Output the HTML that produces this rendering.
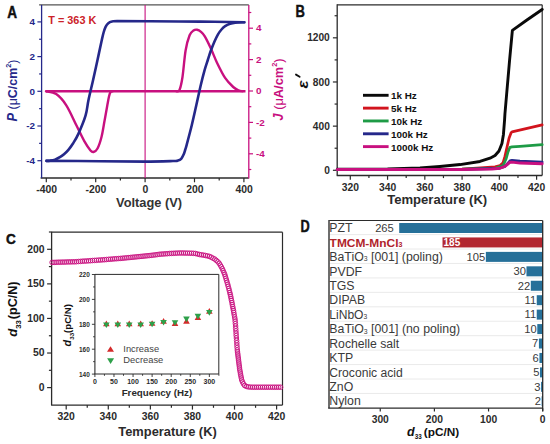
<!DOCTYPE html>
<html><head><meta charset="utf-8"><style>
html,body{margin:0;padding:0;background:#fff;}
svg{display:block;}
text{font-family:"Liberation Sans",sans-serif;}
</style></head><body>
<svg width="550" height="444" viewBox="0 0 550 444">
<rect width="550" height="444" fill="#fff"/>
<text x="7.20" y="17.80" font-size="15.6" font-weight="bold" fill="#111" text-anchor="start" textLength="9.80" lengthAdjust="spacingAndGlyphs" stroke="#111" stroke-width="0.45">A</text>
<line x1="39.10" y1="4.90" x2="248.80" y2="4.90" stroke="#555" stroke-width="1.3" />
<line x1="40.60" y1="178.00" x2="248.80" y2="178.00" stroke="#2b2b2b" stroke-width="1.3" />
<line x1="41.60" y1="4.90" x2="41.60" y2="178.00" stroke="#25288a" stroke-width="1.3" />
<line x1="248.80" y1="4.90" x2="248.80" y2="178.50" stroke="#c8107f" stroke-width="1.3" />
<line x1="145.10" y1="4.90" x2="145.10" y2="178.00" stroke="#c8107f" stroke-width="1.1" />
<line x1="46.30" y1="178.00" x2="46.30" y2="182.30" stroke="#2b2b2b" stroke-width="1.2" />
<line x1="71.00" y1="178.00" x2="71.00" y2="180.60" stroke="#2b2b2b" stroke-width="1.2" />
<line x1="95.70" y1="178.00" x2="95.70" y2="182.30" stroke="#2b2b2b" stroke-width="1.2" />
<line x1="120.40" y1="178.00" x2="120.40" y2="180.60" stroke="#2b2b2b" stroke-width="1.2" />
<line x1="145.10" y1="178.00" x2="145.10" y2="182.30" stroke="#2b2b2b" stroke-width="1.2" />
<line x1="169.80" y1="178.00" x2="169.80" y2="180.60" stroke="#2b2b2b" stroke-width="1.2" />
<line x1="194.50" y1="178.00" x2="194.50" y2="182.30" stroke="#2b2b2b" stroke-width="1.2" />
<line x1="219.20" y1="178.00" x2="219.20" y2="180.60" stroke="#2b2b2b" stroke-width="1.2" />
<line x1="243.90" y1="178.00" x2="243.90" y2="182.30" stroke="#2b2b2b" stroke-width="1.2" />
<text x="46.60" y="192.60" font-size="10.4" font-weight="bold" fill="#2b2b2b" text-anchor="middle" >-400</text>
<text x="96.00" y="192.60" font-size="10.4" font-weight="bold" fill="#2b2b2b" text-anchor="middle" >-200</text>
<text x="145.40" y="192.60" font-size="10.4" font-weight="bold" fill="#2b2b2b" text-anchor="middle" >0</text>
<text x="194.80" y="192.60" font-size="10.4" font-weight="bold" fill="#2b2b2b" text-anchor="middle" >200</text>
<text x="244.20" y="192.60" font-size="10.4" font-weight="bold" fill="#2b2b2b" text-anchor="middle" >400</text>
<line x1="37.40" y1="160.70" x2="41.60" y2="160.70" stroke="#25288a" stroke-width="1.2" />
<line x1="39.10" y1="143.35" x2="41.60" y2="143.35" stroke="#25288a" stroke-width="1.2" />
<line x1="37.40" y1="126.00" x2="41.60" y2="126.00" stroke="#25288a" stroke-width="1.2" />
<line x1="39.10" y1="108.65" x2="41.60" y2="108.65" stroke="#25288a" stroke-width="1.2" />
<line x1="37.40" y1="91.30" x2="41.60" y2="91.30" stroke="#25288a" stroke-width="1.2" />
<line x1="39.10" y1="73.95" x2="41.60" y2="73.95" stroke="#25288a" stroke-width="1.2" />
<line x1="37.40" y1="56.60" x2="41.60" y2="56.60" stroke="#25288a" stroke-width="1.2" />
<line x1="39.10" y1="39.25" x2="41.60" y2="39.25" stroke="#25288a" stroke-width="1.2" />
<line x1="37.40" y1="21.90" x2="41.60" y2="21.90" stroke="#25288a" stroke-width="1.2" />
<text x="35.00" y="164.00" font-size="9.9" font-weight="bold" fill="#25288a" text-anchor="end" >-4</text>
<text x="35.00" y="129.30" font-size="9.9" font-weight="bold" fill="#25288a" text-anchor="end" >-2</text>
<text x="35.00" y="94.60" font-size="9.9" font-weight="bold" fill="#25288a" text-anchor="end" >0</text>
<text x="35.00" y="59.90" font-size="9.9" font-weight="bold" fill="#25288a" text-anchor="end" >2</text>
<text x="35.00" y="25.20" font-size="9.9" font-weight="bold" fill="#25288a" text-anchor="end" >4</text>
<line x1="248.80" y1="169.50" x2="251.30" y2="169.50" stroke="#c8107f" stroke-width="1.2" />
<line x1="248.80" y1="153.80" x2="253.00" y2="153.80" stroke="#c8107f" stroke-width="1.2" />
<line x1="248.80" y1="138.10" x2="251.30" y2="138.10" stroke="#c8107f" stroke-width="1.2" />
<line x1="248.80" y1="122.40" x2="253.00" y2="122.40" stroke="#c8107f" stroke-width="1.2" />
<line x1="248.80" y1="106.70" x2="251.30" y2="106.70" stroke="#c8107f" stroke-width="1.2" />
<line x1="248.80" y1="91.00" x2="253.00" y2="91.00" stroke="#c8107f" stroke-width="1.2" />
<line x1="248.80" y1="75.30" x2="251.30" y2="75.30" stroke="#c8107f" stroke-width="1.2" />
<line x1="248.80" y1="59.60" x2="253.00" y2="59.60" stroke="#c8107f" stroke-width="1.2" />
<line x1="248.80" y1="43.90" x2="251.30" y2="43.90" stroke="#c8107f" stroke-width="1.2" />
<line x1="248.80" y1="28.20" x2="253.00" y2="28.20" stroke="#c8107f" stroke-width="1.2" />
<line x1="248.80" y1="12.50" x2="251.30" y2="12.50" stroke="#c8107f" stroke-width="1.2" />
<text x="255.90" y="157.00" font-size="9.9" font-weight="bold" fill="#c8107f" text-anchor="start" >-4</text>
<text x="255.90" y="125.60" font-size="9.9" font-weight="bold" fill="#c8107f" text-anchor="start" >-2</text>
<text x="255.90" y="94.20" font-size="9.9" font-weight="bold" fill="#c8107f" text-anchor="start" >0</text>
<text x="255.90" y="62.80" font-size="9.9" font-weight="bold" fill="#c8107f" text-anchor="start" >2</text>
<text x="255.90" y="31.40" font-size="9.9" font-weight="bold" fill="#c8107f" text-anchor="start" >4</text>
<text x="48.30" y="23.70" font-size="10.3" font-weight="bold" fill="#cc2229" text-anchor="start" textLength="48.00" lengthAdjust="spacingAndGlyphs" >T = 363 K</text>
<text x="149.10" y="207.30" font-size="12.7" font-weight="bold" fill="#333" text-anchor="middle" textLength="66.00" lengthAdjust="spacingAndGlyphs" >Voltage (V)</text>
<text transform="translate(17.3,121.5) rotate(-90) scale(0.92,1)" font-size="13.5" font-weight="bold" fill="#25288a"><tspan font-style="italic" font-size="14">P</tspan><tspan font-weight="normal"> (μ</tspan>C/cm<tspan font-size="7.8" dy="-6.2">2</tspan><tspan dy="6.2" font-weight="normal">)</tspan></text>
<text transform="translate(283.3,120.8) rotate(-90) scale(0.95,1)" font-size="13.5" font-weight="bold" fill="#c8107f"><tspan font-style="italic" font-size="14">J</tspan><tspan font-weight="normal"> (μ</tspan>A/cm<tspan font-size="7.8" dy="-6.2">2</tspan><tspan dy="6.2" font-weight="normal">)</tspan></text>
<line x1="46.00" y1="91.30" x2="245.50" y2="91.30" stroke="#c8107f" stroke-width="2.5" />
<path d="M46.00,91.30 C47.70,91.77 52.82,91.77 56.20,94.10 C59.58,96.43 62.92,100.07 66.30,105.30 C69.68,110.53 73.45,119.43 76.50,125.50 C79.55,131.57 82.27,137.53 84.60,141.70 C86.93,145.87 89.02,148.78 90.50,150.50 C91.98,152.22 92.33,152.33 93.50,152.00 C94.67,151.67 96.17,151.00 97.50,148.50 C98.83,146.00 100.33,141.58 101.50,137.00 C102.67,132.42 103.55,126.17 104.50,121.00 C105.45,115.83 106.45,110.08 107.20,106.00 C107.95,101.92 108.45,98.80 109.00,96.50 C109.55,94.20 109.92,93.07 110.50,92.20 C111.08,91.33 112.17,91.45 112.50,91.30" fill="none" stroke="#c8107f" stroke-width="2.4" stroke-linejoin="round" stroke-linecap="round"/>
<path d="M176.50,91.20 C177.00,91.00 178.50,92.37 179.50,90.00 C180.50,87.63 181.48,83.58 182.50,77.00 C183.52,70.42 184.42,57.45 185.60,50.50 C186.78,43.55 188.28,38.63 189.60,35.30 C190.92,31.97 192.25,31.43 193.50,30.50 C194.75,29.57 195.85,29.48 197.10,29.70 C198.35,29.92 199.72,30.70 201.00,31.80 C202.28,32.90 203.15,33.52 204.80,36.30 C206.45,39.08 208.87,44.10 210.90,48.50 C212.93,52.90 214.63,57.80 217.00,62.70 C219.37,67.60 222.40,73.85 225.10,77.90 C227.80,81.95 230.97,84.93 233.20,87.00 C235.43,89.07 236.95,89.60 238.50,90.30 C240.05,91.00 241.83,91.05 242.50,91.20" fill="none" stroke="#c8107f" stroke-width="2.4" stroke-linejoin="round" stroke-linecap="round"/>
<path d="M244.30,22.20 C236.92,22.10 215.72,21.75 200.00,21.60 C184.28,21.45 163.83,21.38 150.00,21.30 C136.17,21.22 123.33,21.07 117.00,21.10 C110.67,21.13 113.45,21.15 112.00,21.50 C110.55,21.85 109.37,22.32 108.30,23.20 C107.23,24.08 106.38,25.25 105.60,26.80 C104.82,28.35 104.23,30.30 103.60,32.50 C102.97,34.70 102.82,35.42 101.80,40.00 C100.78,44.58 98.95,53.33 97.50,60.00 C96.05,66.67 94.60,73.33 93.10,80.00 C91.60,86.67 89.75,94.10 88.50,100.00 C87.25,105.90 87.27,109.80 85.60,115.40 C83.93,121.00 80.60,128.92 78.50,133.60 C76.40,138.28 74.68,140.80 73.00,143.50 C71.32,146.20 69.90,148.02 68.40,149.80 C66.90,151.58 65.35,153.02 64.00,154.20 C62.65,155.38 61.80,156.00 60.30,156.90 C58.80,157.80 56.72,158.97 55.00,159.60 C53.28,160.23 51.42,160.48 50.00,160.70 C48.58,160.92 47.08,160.87 46.50,160.90" fill="none" stroke="#25288a" stroke-width="2.6" stroke-linejoin="round" stroke-linecap="round"/>
<path d="M46.50,160.90 C55.42,160.95 83.58,161.08 100.00,161.20 C116.42,161.32 132.83,161.63 145.00,161.60 C157.17,161.57 167.50,161.17 173.00,161.00 C178.50,160.83 176.63,160.97 178.00,160.60 C179.37,160.23 180.27,159.80 181.20,158.80 C182.13,157.80 182.92,156.15 183.60,154.60 C184.28,153.05 184.83,150.97 185.30,149.50 C185.77,148.03 185.33,149.80 186.40,145.80 C187.47,141.80 190.05,132.25 191.70,125.50 C193.35,118.75 194.78,112.05 196.30,105.30 C197.82,98.55 199.45,90.75 200.80,85.00 C202.15,79.25 203.23,74.97 204.40,70.80 C205.57,66.63 206.72,63.38 207.80,60.00 C208.88,56.62 209.78,53.58 210.90,50.50 C212.02,47.42 213.32,44.20 214.50,41.50 C215.68,38.80 216.83,36.30 218.00,34.30 C219.17,32.30 220.32,30.85 221.50,29.50 C222.68,28.15 223.68,27.15 225.10,26.20 C226.52,25.25 228.32,24.40 230.00,23.80 C231.68,23.20 232.82,22.87 235.20,22.60 C237.58,22.33 242.78,22.27 244.30,22.20" fill="none" stroke="#25288a" stroke-width="2.6" stroke-linejoin="round" stroke-linecap="round"/>
<text x="295.50" y="16.90" font-size="16.2" font-weight="bold" fill="#111" text-anchor="start" textLength="9.40" lengthAdjust="spacingAndGlyphs" stroke="#111" stroke-width="0.45">B</text>
<line x1="337.20" y1="4.80" x2="542.20" y2="4.80" stroke="#2b2b2b" stroke-width="1.2" />
<line x1="542.20" y1="4.80" x2="542.20" y2="175.50" stroke="#2b2b2b" stroke-width="1.2" />
<line x1="337.20" y1="4.30" x2="337.20" y2="175.50" stroke="#2b2b2b" stroke-width="1.3" />
<line x1="336.70" y1="175.50" x2="542.20" y2="175.50" stroke="#2b2b2b" stroke-width="1.3" />
<line x1="350.30" y1="175.50" x2="350.30" y2="179.80" stroke="#2b2b2b" stroke-width="1.2" />
<line x1="368.93" y1="175.50" x2="368.93" y2="178.10" stroke="#2b2b2b" stroke-width="1.2" />
<line x1="387.56" y1="175.50" x2="387.56" y2="179.80" stroke="#2b2b2b" stroke-width="1.2" />
<line x1="406.19" y1="175.50" x2="406.19" y2="178.10" stroke="#2b2b2b" stroke-width="1.2" />
<line x1="424.82" y1="175.50" x2="424.82" y2="179.80" stroke="#2b2b2b" stroke-width="1.2" />
<line x1="443.45" y1="175.50" x2="443.45" y2="178.10" stroke="#2b2b2b" stroke-width="1.2" />
<line x1="462.08" y1="175.50" x2="462.08" y2="179.80" stroke="#2b2b2b" stroke-width="1.2" />
<line x1="480.71" y1="175.50" x2="480.71" y2="178.10" stroke="#2b2b2b" stroke-width="1.2" />
<line x1="499.34" y1="175.50" x2="499.34" y2="179.80" stroke="#2b2b2b" stroke-width="1.2" />
<line x1="517.97" y1="175.50" x2="517.97" y2="178.10" stroke="#2b2b2b" stroke-width="1.2" />
<line x1="536.60" y1="175.50" x2="536.60" y2="179.80" stroke="#2b2b2b" stroke-width="1.2" />
<text x="350.30" y="190.70" font-size="10.3" font-weight="bold" fill="#2b2b2b" text-anchor="middle" >320</text>
<text x="387.56" y="190.70" font-size="10.3" font-weight="bold" fill="#2b2b2b" text-anchor="middle" >340</text>
<text x="424.82" y="190.70" font-size="10.3" font-weight="bold" fill="#2b2b2b" text-anchor="middle" >360</text>
<text x="462.08" y="190.70" font-size="10.3" font-weight="bold" fill="#2b2b2b" text-anchor="middle" >380</text>
<text x="499.34" y="190.70" font-size="10.3" font-weight="bold" fill="#2b2b2b" text-anchor="middle" >400</text>
<text x="536.60" y="190.70" font-size="10.3" font-weight="bold" fill="#2b2b2b" text-anchor="middle" >420</text>
<line x1="334.60" y1="148.22" x2="337.20" y2="148.22" stroke="#2b2b2b" stroke-width="1.2" />
<line x1="332.90" y1="126.14" x2="337.20" y2="126.14" stroke="#2b2b2b" stroke-width="1.2" />
<line x1="334.60" y1="104.06" x2="337.20" y2="104.06" stroke="#2b2b2b" stroke-width="1.2" />
<line x1="332.90" y1="81.98" x2="337.20" y2="81.98" stroke="#2b2b2b" stroke-width="1.2" />
<line x1="334.60" y1="59.90" x2="337.20" y2="59.90" stroke="#2b2b2b" stroke-width="1.2" />
<line x1="332.90" y1="37.82" x2="337.20" y2="37.82" stroke="#2b2b2b" stroke-width="1.2" />
<line x1="334.60" y1="15.74" x2="337.20" y2="15.74" stroke="#2b2b2b" stroke-width="1.2" />
<line x1="332.90" y1="170.30" x2="337.20" y2="170.30" stroke="#2b2b2b" stroke-width="1.2" />
<text x="329.80" y="173.90" font-size="10.2" font-weight="bold" fill="#2b2b2b" text-anchor="end" >0</text>
<text x="329.80" y="129.74" font-size="10.2" font-weight="bold" fill="#2b2b2b" text-anchor="end" >400</text>
<text x="329.80" y="85.58" font-size="10.2" font-weight="bold" fill="#2b2b2b" text-anchor="end" >800</text>
<text x="329.80" y="41.42" font-size="10.2" font-weight="bold" fill="#2b2b2b" text-anchor="end" >1200</text>
<text x="437.20" y="204.40" font-size="13" font-weight="bold" fill="#2b2b2b" text-anchor="middle" textLength="100.00" lengthAdjust="spacingAndGlyphs" >Temperature (K)</text>
<text transform="translate(308.3,88.6) rotate(-90) scale(1.08,1)" font-size="15.5" font-weight="bold" font-style="italic" fill="#111">ε</text>
<line x1="296.00" y1="74.60" x2="299.60" y2="76.70" stroke="#111" stroke-width="1.9" stroke-linecap="round"/>
<path d="M337.26,169.31 L387.56,168.98 L419.98,167.87 L439.91,166.44 L460.03,164.56 L479.96,161.47 L490.02,158.16 L495.06,155.51 L498.97,150.98 L501.95,143.47 L503.44,134.42 L504.56,120.07 L504.93,114.00 L509.59,60.01 L512.38,30.42 L526.91,20.05 L542.19,9.45" fill="none" stroke="#0a0a0a" stroke-width="2.9" stroke-linejoin="round" stroke-linecap="round" />
<path d="M337.26,169.31 L462.08,168.98 L495.06,166.88 L500.09,165.55 L503.07,162.68 L504.93,156.39 L506.98,147.34 L509.03,138.28 L511.08,132.76 L512.01,131.88 L542.19,124.93" fill="none" stroke="#d2141e" stroke-width="2.7" stroke-linejoin="round" stroke-linecap="round" />
<path d="M337.26,169.42 L462.08,169.20 L495.61,168.09 L503.07,165.55 L506.05,159.04 L508.10,151.75 L509.96,147.34 L512.01,146.90 L520.02,146.34 L542.19,144.58" fill="none" stroke="#1e9b46" stroke-width="2.7" stroke-linejoin="round" stroke-linecap="round" />
<path d="M337.26,169.53 L462.08,169.42 L499.34,168.31 L504.93,166.44 L509.96,160.92 L512.01,160.36 L520.02,161.03 L542.19,162.02" fill="none" stroke="#25288a" stroke-width="2.7" stroke-linejoin="round" stroke-linecap="round" />
<path d="M337.26,169.53 L462.08,169.47 L491.89,168.98 L500.09,168.20 L504.93,166.44 L509.96,162.24 L512.01,162.13 L520.02,163.12 L542.19,163.68" fill="none" stroke="#c8107f" stroke-width="3.0" stroke-linejoin="round" stroke-linecap="round" />
<line x1="363.00" y1="95.30" x2="388.60" y2="95.30" stroke="#0a0a0a" stroke-width="2.9" />
<text x="391.00" y="99.20" font-size="9.9" font-weight="bold" fill="#111" text-anchor="start" >1k Hz</text>
<line x1="363.00" y1="108.13" x2="388.60" y2="108.13" stroke="#d2141e" stroke-width="2.9" />
<text x="391.00" y="112.03" font-size="9.9" font-weight="bold" fill="#111" text-anchor="start" >5k Hz</text>
<line x1="363.00" y1="120.96" x2="388.60" y2="120.96" stroke="#1e9b46" stroke-width="2.9" />
<text x="391.00" y="124.86" font-size="9.9" font-weight="bold" fill="#111" text-anchor="start" >10k Hz</text>
<line x1="363.00" y1="133.79" x2="388.60" y2="133.79" stroke="#25288a" stroke-width="2.9" />
<text x="391.00" y="137.69" font-size="9.9" font-weight="bold" fill="#111" text-anchor="start" >100k Hz</text>
<line x1="363.00" y1="146.62" x2="388.60" y2="146.62" stroke="#c8107f" stroke-width="2.9" />
<text x="391.00" y="150.52" font-size="9.9" font-weight="bold" fill="#111" text-anchor="start" >1000k Hz</text>
<text x="6.00" y="243.80" font-size="14.5" font-weight="bold" fill="#111" text-anchor="start" textLength="9.80" lengthAdjust="spacingAndGlyphs" stroke="#111" stroke-width="0.45">C</text>
<line x1="51.60" y1="232.20" x2="282.50" y2="232.20" stroke="#2b2b2b" stroke-width="1.2" />
<line x1="282.50" y1="232.20" x2="282.50" y2="405.10" stroke="#2b2b2b" stroke-width="1.2" />
<line x1="51.60" y1="231.70" x2="51.60" y2="405.10" stroke="#2b2b2b" stroke-width="1.3" />
<line x1="51.10" y1="405.10" x2="282.50" y2="405.10" stroke="#2b2b2b" stroke-width="1.3" />
<line x1="66.20" y1="405.10" x2="66.20" y2="409.60" stroke="#2b2b2b" stroke-width="1.2" />
<line x1="87.24" y1="405.10" x2="87.24" y2="407.80" stroke="#2b2b2b" stroke-width="1.2" />
<line x1="108.28" y1="405.10" x2="108.28" y2="409.60" stroke="#2b2b2b" stroke-width="1.2" />
<line x1="129.32" y1="405.10" x2="129.32" y2="407.80" stroke="#2b2b2b" stroke-width="1.2" />
<line x1="150.36" y1="405.10" x2="150.36" y2="409.60" stroke="#2b2b2b" stroke-width="1.2" />
<line x1="171.40" y1="405.10" x2="171.40" y2="407.80" stroke="#2b2b2b" stroke-width="1.2" />
<line x1="192.44" y1="405.10" x2="192.44" y2="409.60" stroke="#2b2b2b" stroke-width="1.2" />
<line x1="213.48" y1="405.10" x2="213.48" y2="407.80" stroke="#2b2b2b" stroke-width="1.2" />
<line x1="234.52" y1="405.10" x2="234.52" y2="409.60" stroke="#2b2b2b" stroke-width="1.2" />
<line x1="255.56" y1="405.10" x2="255.56" y2="407.80" stroke="#2b2b2b" stroke-width="1.2" />
<line x1="276.60" y1="405.10" x2="276.60" y2="409.60" stroke="#2b2b2b" stroke-width="1.2" />
<text x="66.20" y="420.20" font-size="10.4" font-weight="bold" fill="#2b2b2b" text-anchor="middle" >320</text>
<text x="108.28" y="420.20" font-size="10.4" font-weight="bold" fill="#2b2b2b" text-anchor="middle" >340</text>
<text x="150.36" y="420.20" font-size="10.4" font-weight="bold" fill="#2b2b2b" text-anchor="middle" >360</text>
<text x="192.44" y="420.20" font-size="10.4" font-weight="bold" fill="#2b2b2b" text-anchor="middle" >380</text>
<text x="234.52" y="420.20" font-size="10.4" font-weight="bold" fill="#2b2b2b" text-anchor="middle" >400</text>
<text x="276.60" y="420.20" font-size="10.4" font-weight="bold" fill="#2b2b2b" text-anchor="middle" >420</text>
<line x1="47.10" y1="387.60" x2="51.60" y2="387.60" stroke="#2b2b2b" stroke-width="1.2" />
<line x1="48.90" y1="370.31" x2="51.60" y2="370.31" stroke="#2b2b2b" stroke-width="1.2" />
<line x1="47.10" y1="353.03" x2="51.60" y2="353.03" stroke="#2b2b2b" stroke-width="1.2" />
<line x1="48.90" y1="335.74" x2="51.60" y2="335.74" stroke="#2b2b2b" stroke-width="1.2" />
<line x1="47.10" y1="318.45" x2="51.60" y2="318.45" stroke="#2b2b2b" stroke-width="1.2" />
<line x1="48.90" y1="301.16" x2="51.60" y2="301.16" stroke="#2b2b2b" stroke-width="1.2" />
<line x1="47.10" y1="283.88" x2="51.60" y2="283.88" stroke="#2b2b2b" stroke-width="1.2" />
<line x1="48.90" y1="266.59" x2="51.60" y2="266.59" stroke="#2b2b2b" stroke-width="1.2" />
<line x1="47.10" y1="249.30" x2="51.60" y2="249.30" stroke="#2b2b2b" stroke-width="1.2" />
<line x1="48.90" y1="232.01" x2="51.60" y2="232.01" stroke="#2b2b2b" stroke-width="1.2" />
<text x="44.60" y="390.80" font-size="10.4" font-weight="bold" fill="#2b2b2b" text-anchor="end" >0</text>
<text x="44.60" y="356.23" font-size="10.4" font-weight="bold" fill="#2b2b2b" text-anchor="end" >50</text>
<text x="44.60" y="321.65" font-size="10.4" font-weight="bold" fill="#2b2b2b" text-anchor="end" >100</text>
<text x="44.60" y="287.07" font-size="10.4" font-weight="bold" fill="#2b2b2b" text-anchor="end" >150</text>
<text x="44.60" y="252.50" font-size="10.4" font-weight="bold" fill="#2b2b2b" text-anchor="end" >200</text>
<text x="167.50" y="436.00" font-size="13" font-weight="bold" fill="#2b2b2b" text-anchor="middle" textLength="98.50" lengthAdjust="spacingAndGlyphs" >Temperature (K)</text>
<text transform="translate(17.2,336.8) rotate(-90)" font-size="12.6" font-weight="bold" fill="#111"><tspan font-style="italic" font-size="13.2">d</tspan><tspan font-size="7.8" dy="4">33</tspan><tspan dy="-4" dx="0.8">(pC/N)</tspan></text>
<g fill="none" stroke="#c8107f" stroke-width="0.9"><circle cx="52.1" cy="262.4" r="2.3"/><circle cx="54.1" cy="262.4" r="2.3"/><circle cx="56.1" cy="262.3" r="2.3"/><circle cx="58.2" cy="262.2" r="2.3"/><circle cx="60.2" cy="262.2" r="2.3"/><circle cx="62.2" cy="262.1" r="2.3"/><circle cx="64.2" cy="262.1" r="2.3"/><circle cx="66.2" cy="262.0" r="2.3"/><circle cx="68.3" cy="261.9" r="2.3"/><circle cx="70.3" cy="261.9" r="2.3"/><circle cx="72.3" cy="261.8" r="2.3"/><circle cx="74.3" cy="261.8" r="2.3"/><circle cx="76.3" cy="261.7" r="2.3"/><circle cx="78.4" cy="261.5" r="2.3"/><circle cx="80.4" cy="261.4" r="2.3"/><circle cx="82.4" cy="261.2" r="2.3"/><circle cx="84.4" cy="261.1" r="2.3"/><circle cx="86.4" cy="261.0" r="2.3"/><circle cx="88.5" cy="260.8" r="2.3"/><circle cx="90.5" cy="260.7" r="2.3"/><circle cx="92.5" cy="260.5" r="2.3"/><circle cx="94.5" cy="260.4" r="2.3"/><circle cx="96.5" cy="260.3" r="2.3"/><circle cx="98.6" cy="260.1" r="2.3"/><circle cx="100.6" cy="260.0" r="2.3"/><circle cx="102.6" cy="259.8" r="2.3"/><circle cx="104.6" cy="259.7" r="2.3"/><circle cx="106.6" cy="259.5" r="2.3"/><circle cx="108.7" cy="259.3" r="2.3"/><circle cx="110.7" cy="259.2" r="2.3"/><circle cx="112.7" cy="259.0" r="2.3"/><circle cx="114.7" cy="258.8" r="2.3"/><circle cx="116.7" cy="258.7" r="2.3"/><circle cx="118.8" cy="258.5" r="2.3"/><circle cx="120.8" cy="258.4" r="2.3"/><circle cx="122.8" cy="258.2" r="2.3"/><circle cx="124.8" cy="258.0" r="2.3"/><circle cx="126.8" cy="257.8" r="2.3"/><circle cx="128.9" cy="257.6" r="2.3"/><circle cx="130.9" cy="257.4" r="2.3"/><circle cx="132.9" cy="257.2" r="2.3"/><circle cx="134.9" cy="257.0" r="2.3"/><circle cx="136.9" cy="256.8" r="2.3"/><circle cx="139.0" cy="256.6" r="2.3"/><circle cx="141.0" cy="256.4" r="2.3"/><circle cx="143.0" cy="256.2" r="2.3"/><circle cx="145.0" cy="256.0" r="2.3"/><circle cx="147.0" cy="255.8" r="2.3"/><circle cx="149.1" cy="255.6" r="2.3"/><circle cx="151.1" cy="255.4" r="2.3"/><circle cx="153.1" cy="255.1" r="2.3"/><circle cx="155.1" cy="254.9" r="2.3"/><circle cx="157.1" cy="254.6" r="2.3"/><circle cx="159.2" cy="254.3" r="2.3"/><circle cx="161.2" cy="254.1" r="2.3"/><circle cx="163.2" cy="254.0" r="2.3"/><circle cx="165.2" cy="253.8" r="2.3"/><circle cx="167.2" cy="253.7" r="2.3"/><circle cx="169.3" cy="253.5" r="2.3"/><circle cx="171.3" cy="253.4" r="2.3"/><circle cx="173.3" cy="253.3" r="2.3"/><circle cx="175.3" cy="253.2" r="2.3"/><circle cx="177.3" cy="253.1" r="2.3"/><circle cx="179.4" cy="253.0" r="2.3"/><circle cx="181.4" cy="253.0" r="2.3"/><circle cx="183.4" cy="253.0" r="2.3"/><circle cx="185.4" cy="253.1" r="2.3"/><circle cx="187.4" cy="253.1" r="2.3"/><circle cx="189.5" cy="253.2" r="2.3"/><circle cx="191.5" cy="253.2" r="2.3"/><circle cx="193.5" cy="253.3" r="2.3"/><circle cx="195.5" cy="253.5" r="2.3"/><circle cx="197.5" cy="254.0" r="2.3"/><circle cx="199.5" cy="254.5" r="2.3"/><circle cx="201.4" cy="254.8" r="2.3"/><circle cx="203.4" cy="255.1" r="2.3"/><circle cx="205.4" cy="255.5" r="2.3"/><circle cx="207.4" cy="255.9" r="2.3"/><circle cx="209.4" cy="256.4" r="2.3"/><circle cx="211.2" cy="257.2" r="2.3"/><circle cx="213.0" cy="258.2" r="2.3"/><circle cx="214.8" cy="259.1" r="2.3"/><circle cx="216.3" cy="260.4" r="2.3"/><circle cx="217.9" cy="261.8" r="2.3"/><circle cx="219.2" cy="263.3" r="2.3"/><circle cx="220.3" cy="265.1" r="2.3"/><circle cx="221.3" cy="266.8" r="2.3"/><circle cx="222.3" cy="268.7" r="2.3"/><circle cx="223.1" cy="270.6" r="2.3"/><circle cx="223.9" cy="272.5" r="2.3"/><circle cx="224.7" cy="274.3" r="2.3"/><circle cx="225.3" cy="276.3" r="2.3"/><circle cx="225.9" cy="278.3" r="2.3"/><circle cx="226.5" cy="280.3" r="2.3"/><circle cx="227.1" cy="282.3" r="2.3"/><circle cx="227.7" cy="284.3" r="2.3"/><circle cx="228.2" cy="286.3" r="2.3"/><circle cx="228.8" cy="288.4" r="2.3"/><circle cx="229.3" cy="290.5" r="2.3"/><circle cx="229.8" cy="292.6" r="2.3"/><circle cx="230.3" cy="294.5" r="2.3"/><circle cx="230.7" cy="296.5" r="2.3"/><circle cx="231.1" cy="298.5" r="2.3"/><circle cx="231.5" cy="300.5" r="2.3"/><circle cx="232.0" cy="302.6" r="2.3"/><circle cx="232.3" cy="304.6" r="2.3"/><circle cx="232.7" cy="306.6" r="2.3"/><circle cx="233.1" cy="308.6" r="2.3"/><circle cx="233.5" cy="310.6" r="2.3"/><circle cx="233.8" cy="312.6" r="2.3"/><circle cx="234.2" cy="314.8" r="2.3"/><circle cx="234.6" cy="317.0" r="2.3"/><circle cx="235.0" cy="319.1" r="2.3"/><circle cx="235.2" cy="321.3" r="2.3"/><circle cx="235.4" cy="323.7" r="2.3"/><circle cx="235.6" cy="326.1" r="2.3"/><circle cx="235.7" cy="328.5" r="2.3"/><circle cx="235.9" cy="330.9" r="2.3"/><circle cx="236.1" cy="333.3" r="2.3"/><circle cx="236.2" cy="335.6" r="2.3"/><circle cx="236.4" cy="338.0" r="2.3"/><circle cx="236.6" cy="340.4" r="2.3"/><circle cx="236.8" cy="342.8" r="2.3"/><circle cx="236.9" cy="345.2" r="2.3"/><circle cx="237.1" cy="347.6" r="2.3"/><circle cx="237.3" cy="350.0" r="2.3"/><circle cx="237.5" cy="352.0" r="2.3"/><circle cx="237.8" cy="354.0" r="2.3"/><circle cx="238.0" cy="356.0" r="2.3"/><circle cx="238.3" cy="358.0" r="2.3"/><circle cx="238.5" cy="360.0" r="2.3"/><circle cx="238.8" cy="362.0" r="2.3"/><circle cx="239.0" cy="364.0" r="2.3"/><circle cx="239.3" cy="366.0" r="2.3"/><circle cx="239.5" cy="368.0" r="2.3"/><circle cx="239.8" cy="370.0" r="2.3"/><circle cx="240.2" cy="372.0" r="2.3"/><circle cx="240.5" cy="374.0" r="2.3"/><circle cx="240.9" cy="376.0" r="2.3"/><circle cx="241.3" cy="378.0" r="2.3"/><circle cx="241.7" cy="380.0" r="2.3"/><circle cx="242.5" cy="381.9" r="2.3"/><circle cx="243.4" cy="383.8" r="2.3"/><circle cx="244.6" cy="385.5" r="2.3"/><circle cx="246.4" cy="386.4" r="2.3"/><circle cx="248.3" cy="386.9" r="2.3"/><circle cx="250.3" cy="387.1" r="2.3"/><circle cx="252.4" cy="387.2" r="2.3"/><circle cx="254.4" cy="387.2" r="2.3"/><circle cx="256.4" cy="387.2" r="2.3"/><circle cx="258.4" cy="387.2" r="2.3"/><circle cx="260.4" cy="387.2" r="2.3"/><circle cx="262.5" cy="387.2" r="2.3"/><circle cx="264.5" cy="387.2" r="2.3"/><circle cx="266.5" cy="387.2" r="2.3"/><circle cx="268.5" cy="387.2" r="2.3"/><circle cx="270.5" cy="387.2" r="2.3"/><circle cx="272.6" cy="387.2" r="2.3"/><circle cx="274.6" cy="387.2" r="2.3"/><circle cx="276.6" cy="387.2" r="2.3"/><circle cx="278.6" cy="387.2" r="2.3"/><circle cx="280.6" cy="387.2" r="2.3"/></g>
<rect x="94.9" y="274.4" width="123.90" height="99.60" fill="#fff" stroke="none"/>
<line x1="94.90" y1="274.40" x2="218.80" y2="274.40" stroke="#2b2b2b" stroke-width="1.0" />
<line x1="218.80" y1="274.40" x2="218.80" y2="374.00" stroke="#2b2b2b" stroke-width="1.0" />
<line x1="94.90" y1="274.00" x2="94.90" y2="374.00" stroke="#2b2b2b" stroke-width="1.1" />
<line x1="94.50" y1="374.00" x2="218.80" y2="374.00" stroke="#2b2b2b" stroke-width="1.1" />
<line x1="94.90" y1="374.00" x2="94.90" y2="377.00" stroke="#2b2b2b" stroke-width="0.9" />
<line x1="104.44" y1="374.00" x2="104.44" y2="375.80" stroke="#2b2b2b" stroke-width="0.9" />
<line x1="113.98" y1="374.00" x2="113.98" y2="377.00" stroke="#2b2b2b" stroke-width="0.9" />
<line x1="123.51" y1="374.00" x2="123.51" y2="375.80" stroke="#2b2b2b" stroke-width="0.9" />
<line x1="133.05" y1="374.00" x2="133.05" y2="377.00" stroke="#2b2b2b" stroke-width="0.9" />
<line x1="142.59" y1="374.00" x2="142.59" y2="375.80" stroke="#2b2b2b" stroke-width="0.9" />
<line x1="152.12" y1="374.00" x2="152.12" y2="377.00" stroke="#2b2b2b" stroke-width="0.9" />
<line x1="161.66" y1="374.00" x2="161.66" y2="375.80" stroke="#2b2b2b" stroke-width="0.9" />
<line x1="171.20" y1="374.00" x2="171.20" y2="377.00" stroke="#2b2b2b" stroke-width="0.9" />
<line x1="180.74" y1="374.00" x2="180.74" y2="375.80" stroke="#2b2b2b" stroke-width="0.9" />
<line x1="190.28" y1="374.00" x2="190.28" y2="377.00" stroke="#2b2b2b" stroke-width="0.9" />
<line x1="199.81" y1="374.00" x2="199.81" y2="375.80" stroke="#2b2b2b" stroke-width="0.9" />
<line x1="209.35" y1="374.00" x2="209.35" y2="377.00" stroke="#2b2b2b" stroke-width="0.9" />
<line x1="218.89" y1="374.00" x2="218.89" y2="375.80" stroke="#2b2b2b" stroke-width="0.9" />
<text x="94.90" y="384.30" font-size="7.0" font-weight="bold" fill="#2b2b2b" text-anchor="middle" >0</text>
<text x="113.98" y="384.30" font-size="7.0" font-weight="bold" fill="#2b2b2b" text-anchor="middle" >50</text>
<text x="133.05" y="384.30" font-size="7.0" font-weight="bold" fill="#2b2b2b" text-anchor="middle" >100</text>
<text x="152.12" y="384.30" font-size="7.0" font-weight="bold" fill="#2b2b2b" text-anchor="middle" >150</text>
<text x="171.20" y="384.30" font-size="7.0" font-weight="bold" fill="#2b2b2b" text-anchor="middle" >200</text>
<text x="190.28" y="384.30" font-size="7.0" font-weight="bold" fill="#2b2b2b" text-anchor="middle" >250</text>
<text x="209.35" y="384.30" font-size="7.0" font-weight="bold" fill="#2b2b2b" text-anchor="middle" >300</text>
<line x1="91.90" y1="374.10" x2="94.90" y2="374.10" stroke="#2b2b2b" stroke-width="0.9" />
<line x1="93.10" y1="361.65" x2="94.90" y2="361.65" stroke="#2b2b2b" stroke-width="0.9" />
<line x1="91.90" y1="349.20" x2="94.90" y2="349.20" stroke="#2b2b2b" stroke-width="0.9" />
<line x1="93.10" y1="336.75" x2="94.90" y2="336.75" stroke="#2b2b2b" stroke-width="0.9" />
<line x1="91.90" y1="324.30" x2="94.90" y2="324.30" stroke="#2b2b2b" stroke-width="0.9" />
<line x1="93.10" y1="311.85" x2="94.90" y2="311.85" stroke="#2b2b2b" stroke-width="0.9" />
<line x1="91.90" y1="299.40" x2="94.90" y2="299.40" stroke="#2b2b2b" stroke-width="0.9" />
<line x1="93.10" y1="286.95" x2="94.90" y2="286.95" stroke="#2b2b2b" stroke-width="0.9" />
<line x1="91.90" y1="274.50" x2="94.90" y2="274.50" stroke="#2b2b2b" stroke-width="0.9" />
<text x="89.80" y="376.50" font-size="7.0" font-weight="bold" fill="#2b2b2b" text-anchor="end" textLength="10.80" lengthAdjust="spacingAndGlyphs" >140</text>
<text x="89.80" y="351.60" font-size="7.0" font-weight="bold" fill="#2b2b2b" text-anchor="end" textLength="10.80" lengthAdjust="spacingAndGlyphs" >160</text>
<text x="89.80" y="326.70" font-size="7.0" font-weight="bold" fill="#2b2b2b" text-anchor="end" textLength="10.80" lengthAdjust="spacingAndGlyphs" >180</text>
<text x="89.80" y="301.80" font-size="7.0" font-weight="bold" fill="#2b2b2b" text-anchor="end" textLength="10.80" lengthAdjust="spacingAndGlyphs" >200</text>
<text x="89.80" y="276.90" font-size="7.0" font-weight="bold" fill="#2b2b2b" text-anchor="end" textLength="10.80" lengthAdjust="spacingAndGlyphs" >220</text>
<text x="156.90" y="395.60" font-size="9.9" font-weight="bold" fill="#2b2b2b" text-anchor="middle" textLength="70.50" lengthAdjust="spacingAndGlyphs" >Frequency (Hz)</text>
<text transform="translate(71.4,346.4) rotate(-90)" font-size="9.6" font-weight="bold" fill="#111"><tspan font-style="italic" font-size="10.8">d</tspan><tspan font-size="6.2" dy="3">33</tspan><tspan dy="-3">(pC/N)</tspan></text>
<path d="M103.05,326.20 L109.64,326.20 L106.34,320.50 Z" fill="#d42a2a"/>
<path d="M114.49,326.20 L121.09,326.20 L117.79,320.50 Z" fill="#d42a2a"/>
<path d="M125.94,326.20 L132.54,326.20 L129.24,320.50 Z" fill="#d42a2a"/>
<path d="M137.38,326.20 L143.98,326.20 L140.68,320.50 Z" fill="#d42a2a"/>
<path d="M148.82,325.83 L155.43,325.83 L152.12,320.13 Z" fill="#d42a2a"/>
<path d="M160.27,323.71 L166.87,323.71 L163.57,318.01 Z" fill="#d42a2a"/>
<path d="M171.71,325.95 L178.31,325.95 L175.01,320.25 Z" fill="#d42a2a"/>
<path d="M183.16,323.71 L189.76,323.71 L186.46,318.01 Z" fill="#d42a2a"/>
<path d="M194.60,320.10 L201.21,320.10 L197.91,314.40 Z" fill="#d42a2a"/>
<path d="M206.05,313.75 L212.65,313.75 L209.35,308.05 Z" fill="#d42a2a"/>
<path d="M103.05,322.40 L109.64,322.40 L106.34,328.10 Z" fill="#2ea04a"/>
<path d="M114.49,322.40 L121.09,322.40 L117.79,328.10 Z" fill="#2ea04a"/>
<path d="M125.94,322.40 L132.54,322.40 L129.24,328.10 Z" fill="#2ea04a"/>
<path d="M137.38,322.40 L143.98,322.40 L140.68,328.10 Z" fill="#2ea04a"/>
<path d="M148.82,321.65 L155.43,321.65 L152.12,327.35 Z" fill="#2ea04a"/>
<path d="M160.27,319.91 L166.87,319.91 L163.57,325.61 Z" fill="#2ea04a"/>
<path d="M171.71,320.16 L178.31,320.16 L175.01,325.86 Z" fill="#2ea04a"/>
<path d="M183.16,316.55 L189.76,316.55 L186.46,322.25 Z" fill="#2ea04a"/>
<path d="M194.60,313.81 L201.21,313.81 L197.91,319.51 Z" fill="#2ea04a"/>
<path d="M206.05,309.95 L212.65,309.95 L209.35,315.65 Z" fill="#2ea04a"/>
<path d="M107.00,351.83 L114.00,351.83 L110.50,346.33 Z" fill="#d42a2a"/>
<path d="M107.10,358.17 L114.10,358.17 L110.60,363.97 Z" fill="#2ea04a"/>
<text x="123.30" y="352.40" font-size="9.4" font-weight="normal" fill="#444" text-anchor="start" textLength="35.80" lengthAdjust="spacingAndGlyphs" >Increase</text>
<text x="123.30" y="363.30" font-size="9.4" font-weight="normal" fill="#444" text-anchor="start" textLength="40.00" lengthAdjust="spacingAndGlyphs" >Decrease</text>
<text x="300.40" y="231.90" font-size="15.8" font-weight="bold" fill="#111" text-anchor="start" textLength="9.20" lengthAdjust="spacingAndGlyphs" stroke="#111" stroke-width="0.45">D</text>
<line x1="329.00" y1="234.60" x2="542.70" y2="234.60" stroke="#e4e4e4" stroke-width="0.8" />
<line x1="329.00" y1="249.04" x2="542.70" y2="249.04" stroke="#e4e4e4" stroke-width="0.8" />
<line x1="329.00" y1="263.48" x2="542.70" y2="263.48" stroke="#e4e4e4" stroke-width="0.8" />
<line x1="329.00" y1="277.92" x2="542.70" y2="277.92" stroke="#e4e4e4" stroke-width="0.8" />
<line x1="329.00" y1="292.36" x2="542.70" y2="292.36" stroke="#e4e4e4" stroke-width="0.8" />
<line x1="329.00" y1="306.80" x2="542.70" y2="306.80" stroke="#e4e4e4" stroke-width="0.8" />
<line x1="329.00" y1="321.24" x2="542.70" y2="321.24" stroke="#e4e4e4" stroke-width="0.8" />
<line x1="329.00" y1="335.68" x2="542.70" y2="335.68" stroke="#e4e4e4" stroke-width="0.8" />
<line x1="329.00" y1="350.12" x2="542.70" y2="350.12" stroke="#e4e4e4" stroke-width="0.8" />
<line x1="329.00" y1="364.56" x2="542.70" y2="364.56" stroke="#e4e4e4" stroke-width="0.8" />
<line x1="329.00" y1="379.00" x2="542.70" y2="379.00" stroke="#e4e4e4" stroke-width="0.8" />
<line x1="329.00" y1="393.44" x2="542.70" y2="393.44" stroke="#e4e4e4" stroke-width="0.8" />
<rect x="399.20" y="223.00" width="143.50" height="10" fill="#267099"/>
<text x="329.30" y="232.20" font-size="12.3" font-weight="normal" fill="#3a3a3a" text-anchor="start" >PZT</text>
<text x="393.80" y="231.80" font-size="11.2" font-weight="normal" fill="#3a3a3a" text-anchor="end" >265</text>
<rect x="442.52" y="237.44" width="100.18" height="10" fill="#b2262f"/>
<text x="329.60" y="246.54" font-size="11.5" font-weight="bold" fill="#b0232a" text-anchor="start" textLength="72.80" lengthAdjust="spacingAndGlyphs" >TMCM-MnCl<tspan font-size="6.8" dy="0.3">3</tspan></text>
<text x="443.60" y="245.94" font-size="10.5" font-weight="bold" fill="#fff" text-anchor="start" textLength="16.60" lengthAdjust="spacingAndGlyphs" >185</text>
<rect x="485.84" y="251.88" width="56.86" height="10" fill="#267099"/>
<text x="329.30" y="261.08" font-size="12.3" font-weight="normal" fill="#3a3a3a" text-anchor="start" textLength="113.60" lengthAdjust="spacingAndGlyphs" >BaTiO<tspan font-size="6.8" dy="0.3">3</tspan><tspan dy="-0.3"> [001] (poling)</tspan></text>
<text x="485.24" y="260.68" font-size="11.2" font-weight="normal" fill="#3a3a3a" text-anchor="end" >105</text>
<rect x="526.46" y="266.32" width="16.25" height="10" fill="#267099"/>
<text x="329.30" y="275.52" font-size="12.3" font-weight="normal" fill="#3a3a3a" text-anchor="start" >PVDF</text>
<text x="525.86" y="275.12" font-size="11.2" font-weight="normal" fill="#3a3a3a" text-anchor="end" >30</text>
<rect x="530.79" y="280.76" width="11.91" height="10" fill="#267099"/>
<text x="329.30" y="289.96" font-size="12.3" font-weight="normal" fill="#3a3a3a" text-anchor="start" >TGS</text>
<text x="530.19" y="289.56" font-size="11.2" font-weight="normal" fill="#3a3a3a" text-anchor="end" >22</text>
<rect x="536.74" y="295.20" width="5.96" height="10" fill="#267099"/>
<text x="329.30" y="304.40" font-size="12.3" font-weight="normal" fill="#3a3a3a" text-anchor="start" textLength="35.80" lengthAdjust="spacingAndGlyphs" >DIPAB</text>
<text x="536.14" y="304.00" font-size="11.2" font-weight="normal" fill="#3a3a3a" text-anchor="end" >11</text>
<rect x="536.74" y="309.64" width="5.96" height="10" fill="#267099"/>
<text x="329.30" y="318.84" font-size="12.3" font-weight="normal" fill="#3a3a3a" text-anchor="start" textLength="37.90" lengthAdjust="spacingAndGlyphs" >LiNbO<tspan font-size="6.8" dy="0.3">3</tspan></text>
<text x="536.14" y="318.44" font-size="11.2" font-weight="normal" fill="#3a3a3a" text-anchor="end" >11</text>
<rect x="537.29" y="324.08" width="5.41" height="10" fill="#267099"/>
<text x="329.30" y="333.28" font-size="12.3" font-weight="normal" fill="#3a3a3a" text-anchor="start" textLength="130.90" lengthAdjust="spacingAndGlyphs" >BaTiO<tspan font-size="6.8" dy="0.3">3</tspan><tspan dy="-0.3"> [001] (no poling)</tspan></text>
<text x="536.69" y="332.88" font-size="11.2" font-weight="normal" fill="#3a3a3a" text-anchor="end" >10</text>
<rect x="538.91" y="338.52" width="3.79" height="10" fill="#267099"/>
<text x="329.30" y="347.72" font-size="12.3" font-weight="normal" fill="#3a3a3a" text-anchor="start" textLength="69.90" lengthAdjust="spacingAndGlyphs" >Rochelle salt</text>
<text x="538.31" y="347.32" font-size="11.2" font-weight="normal" fill="#3a3a3a" text-anchor="end" >7</text>
<rect x="539.45" y="352.96" width="3.25" height="10" fill="#267099"/>
<text x="329.30" y="362.16" font-size="12.3" font-weight="normal" fill="#3a3a3a" text-anchor="start" >KTP</text>
<text x="538.85" y="361.76" font-size="11.2" font-weight="normal" fill="#3a3a3a" text-anchor="end" >6</text>
<rect x="539.99" y="367.40" width="2.71" height="10" fill="#267099"/>
<text x="329.30" y="376.60" font-size="12.3" font-weight="normal" fill="#3a3a3a" text-anchor="start" textLength="73.50" lengthAdjust="spacingAndGlyphs" >Croconic acid</text>
<text x="539.39" y="376.20" font-size="11.2" font-weight="normal" fill="#3a3a3a" text-anchor="end" >5</text>
<rect x="541.08" y="381.84" width="1.62" height="10" fill="#267099"/>
<text x="329.30" y="391.04" font-size="12.3" font-weight="normal" fill="#3a3a3a" text-anchor="start" >ZnO</text>
<text x="540.48" y="390.64" font-size="11.2" font-weight="normal" fill="#3a3a3a" text-anchor="end" >3</text>
<rect x="541.62" y="396.28" width="1.08" height="10" fill="#267099"/>
<text x="329.30" y="405.48" font-size="12.3" font-weight="normal" fill="#3a3a3a" text-anchor="start" >Nylon</text>
<text x="541.02" y="405.08" font-size="11.2" font-weight="normal" fill="#3a3a3a" text-anchor="end" >2</text>
<line x1="329.00" y1="220.50" x2="542.70" y2="220.50" stroke="#2b2b2b" stroke-width="1.2" />
<line x1="542.70" y1="220.50" x2="542.70" y2="411.20" stroke="#2b2b2b" stroke-width="1.3" />
<line x1="329.00" y1="219.90" x2="329.00" y2="408.20" stroke="#4a4a4a" stroke-width="1.6" />
<line x1="328.20" y1="408.20" x2="542.70" y2="408.20" stroke="#2b2b2b" stroke-width="1.3" />
<line x1="542.70" y1="408.20" x2="542.70" y2="411.50" stroke="#2b2b2b" stroke-width="1.2" />
<text x="542.70" y="422.50" font-size="10.3" font-weight="bold" fill="#2b2b2b" text-anchor="middle" >0</text>
<line x1="488.55" y1="408.20" x2="488.55" y2="411.50" stroke="#2b2b2b" stroke-width="1.2" />
<text x="488.55" y="422.50" font-size="10.3" font-weight="bold" fill="#2b2b2b" text-anchor="middle" >100</text>
<line x1="434.40" y1="408.20" x2="434.40" y2="411.50" stroke="#2b2b2b" stroke-width="1.2" />
<text x="434.40" y="422.50" font-size="10.3" font-weight="bold" fill="#2b2b2b" text-anchor="middle" >200</text>
<line x1="380.25" y1="408.20" x2="380.25" y2="411.50" stroke="#2b2b2b" stroke-width="1.2" />
<text x="380.25" y="422.50" font-size="10.3" font-weight="bold" fill="#2b2b2b" text-anchor="middle" >300</text>
<text x="407.0" y="435.6" font-size="11.8" font-weight="bold" fill="#111"><tspan font-style="italic" font-size="12.5">d</tspan><tspan font-size="6.3" dy="3">33</tspan><tspan dy="-3" dx="2.2">(pC/N)</tspan></text>
</svg>
</body></html>
